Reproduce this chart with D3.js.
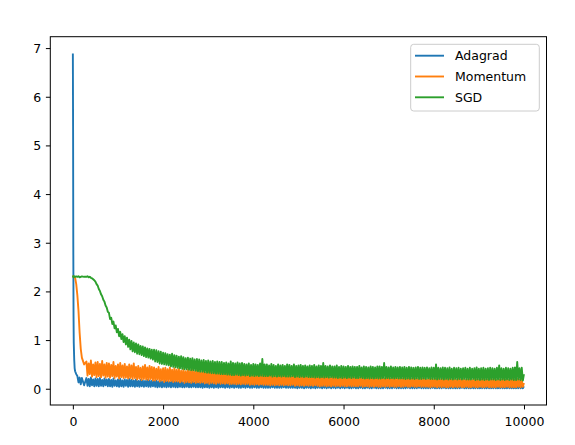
<!DOCTYPE html>
<html>
<head>
<meta charset="utf-8">
<script src="https://cdn.jsdelivr.net/npm/d3@7"></script>
<style>
  body { margin: 0; background: #fff; }
  text { font-family: "DejaVu Sans", sans-serif; }
</style>
</head>
<body>
<div id="chart"></div>
<script>
var W = 575, H = 445;
var plotLeft = 50.3, plotTop = 36.7, plotRight = 546.5, plotBottom = 405; // plot frame

// iteration index of every sample: fine at the start, then every 25 iterations
var steps = [0, 5, 10, 15, 20, 30, 40, 50, 75, 100, 125, 150, 175, 200, 250]
  .concat(d3.range(300, 10000, 25)).concat([9999]);

var names = ['Adagrad', 'Momentum', 'SGD'];
var colors = ['#1f77b4', '#ff7f0e', '#2ca02c'];

// loss (one row = 500 iterations)
var adagrad = [6.89, 5.4, 2.9, 1.5, 0.95, 0.6, 0.42, 0.36, 0.3, 0.26, 0.13, 0.23, 0.09, 0.22, 0.07,
  0.22, 0.06, 0.2, 0.05, 0.23, 0.07, 0.19, 0.05, 0.21, 0.06, 0.2, 0.05, 0.22, 0.06, 0.18, 0.05, 0.21, 0.07, 0.19, 0.05,
  0.2, 0.05, 0.18, 0.04, 0.21, 0.06, 0.17, 0.05, 0.19, 0.04, 0.2, 0.05, 0.17, 0.04, 0.19, 0.06, 0.18, 0.04, 0.2, 0.05,
  0.18, 0.05, 0.17, 0.04, 0.19, 0.05, 0.16, 0.04, 0.18, 0.05, 0.17, 0.04, 0.16, 0.05, 0.18, 0.04, 0.17, 0.04, 0.16, 0.05,
  0.16, 0.04, 0.17, 0.03, 0.15, 0.04, 0.16, 0.03, 0.15, 0.04, 0.16, 0.03, 0.15, 0.04, 0.14, 0.03, 0.16, 0.04, 0.15, 0.03,
  0.15, 0.03, 0.14, 0.04, 0.16, 0.03, 0.13, 0.03, 0.14, 0.04, 0.15, 0.03, 0.13, 0.03, 0.14, 0.04, 0.13, 0.03, 0.15, 0.03,
  0.13, 0.03, 0.14, 0.02, 0.13, 0.03, 0.12, 0.03, 0.14, 0.02, 0.13, 0.03, 0.12, 0.02, 0.13, 0.03, 0.12, 0.02, 0.13, 0.03,
  0.12, 0.03, 0.13, 0.02, 0.12, 0.03, 0.11, 0.02, 0.13, 0.03, 0.12, 0.02, 0.11, 0.03, 0.12, 0.02, 0.11, 0.02, 0.12, 0.03,
  0.11, 0.02, 0.12, 0.03, 0.11, 0.02, 0.12, 0.02, 0.1, 0.03, 0.11, 0.02, 0.1, 0.02, 0.11, 0.03, 0.1, 0.02, 0.11, 0.02,
  0.11, 0.02, 0.1, 0.02, 0.11, 0.03, 0.1, 0.02, 0.11, 0.02, 0.1, 0.02, 0.11, 0.02, 0.1, 0.03, 0.1, 0.02, 0.11, 0.02,
  0.1, 0.02, 0.11, 0.02, 0.09, 0.02, 0.1, 0.01, 0.1, 0.02, 0.09, 0.02, 0.1, 0.01, 0.09, 0.02, 0.1, 0.02, 0.09, 0.01,
  0.09, 0.02, 0.1, 0.01, 0.09, 0.02, 0.1, 0.02, 0.09, 0.01, 0.09, 0.02, 0.1, 0.01, 0.09, 0.02, 0.08, 0.01, 0.09, 0.02,
  0.09, 0.01, 0.1, 0.02, 0.08, 0.01, 0.09, 0.02, 0.09, 0.01, 0.08, 0.02, 0.09, 0.01, 0.08, 0.01, 0.09, 0.02, 0.08, 0.01,
  0.08, 0.01, 0.09, 0.02, 0.08, 0.01, 0.09, 0.01, 0.08, 0.02, 0.08, 0.01, 0.09, 0.01, 0.08, 0.02, 0.07, 0.01, 0.08, 0.01,
  0.08, 0.01, 0.09, 0.01, 0.08, 0.02, 0.07, 0.01, 0.08, 0.01, 0.07, 0.01, 0.08, 0.02, 0.07, 0.01, 0.08, 0.01, 0.07, 0.01,
  0.07, 0.01, 0.08, 0.01, 0.07, 0.02, 0.08, 0.01, 0.07, 0.01, 0.08, 0.01, 0.07, 0.01, 0.07, 0.02, 0.08, 0.01, 0.07, 0.01,
  0.07, 0.01, 0.08, 0.01, 0.07, 0.01, 0.07, 0.02, 0.07, 0.01, 0.06, 0.01, 0.07, 0.01, 0.08, 0.01, 0.07, 0.02, 0.06, 0.01,
  0.07, 0.01, 0.06, 0.01, 0.07, 0.01, 0.07, 0.01, 0.06, 0.01, 0.07, 0.01, 0.06, 0.02, 0.07, 0.01, 0.06, 0.01, 0.07, 0.01,
  0.06, 0.01, 0.07, 0.01, 0.06, 0.01, 0.07, 0.01, 0.06, 0.01, 0.06, 0.01, 0.07, 0.01, 0.06, 0.01, 0.07, 0.01, 0.06, 0.01,
  0.06, 0.01, 0.07, 0.01, 0.06, 0.01, 0.06, 0.01, 0.07, 0.01, 0.06, 0.01, 0.06, 0.01, 0.07, 0.01, 0.06, 0.01, 0.06, 0.01,
  0.06, 0.01, 0.06, 0.01, 0.07, 0.01, 0.06, 0.01,
  0.05];

var momentum = [2.30, 2.30, 2.31, 2.30, 2.30, 2.29, 2.29, 2.28, 2.15, 1.92, 1.6, 1.15, 0.82, 0.64, 0.5,
  0.56, 0.27, 0.52, 0.3, 0.58, 0.25, 0.5, 0.28, 0.54, 0.24, 0.55, 0.26, 0.51, 0.24, 0.57, 0.27, 0.5, 0.23, 0.53, 0.25,
  0.52, 0.23, 0.49, 0.26, 0.55, 0.22, 0.47, 0.25, 0.5, 0.21, 0.53, 0.24, 0.48, 0.22, 0.51, 0.23, 0.46, 0.21, 0.5, 0.22,
  0.48, 0.2, 0.52, 0.22, 0.45, 0.19, 0.47, 0.21, 0.43, 0.18, 0.46, 0.2, 0.49, 0.19, 0.44, 0.18, 0.47, 0.2, 0.45, 0.17,
  0.44, 0.17, 0.41, 0.19, 0.45, 0.15, 0.4, 0.17, 0.42, 0.14, 0.43, 0.16, 0.4, 0.15, 0.44, 0.16, 0.39, 0.14, 0.42, 0.15,
  0.39, 0.15, 0.41, 0.13, 0.37, 0.15, 0.4, 0.12, 0.36, 0.14, 0.39, 0.13, 0.38, 0.12, 0.4, 0.14, 0.36, 0.12, 0.38, 0.13,
  0.37, 0.12, 0.34, 0.13, 0.38, 0.11, 0.33, 0.12, 0.35, 0.1, 0.36, 0.12, 0.33, 0.11, 0.35, 0.1, 0.34, 0.12, 0.32, 0.1,
  0.33, 0.11, 0.35, 0.1, 0.31, 0.11, 0.34, 0.09, 0.3, 0.1, 0.33, 0.1, 0.31, 0.09, 0.32, 0.1, 0.3, 0.09, 0.33, 0.1,
  0.31, 0.09, 0.29, 0.1, 0.32, 0.08, 0.28, 0.09, 0.3, 0.08, 0.31, 0.09, 0.28, 0.08, 0.3, 0.09, 0.29, 0.08, 0.3, 0.08,
  0.28, 0.08, 0.3, 0.07, 0.27, 0.08, 0.29, 0.07, 0.26, 0.08, 0.28, 0.07, 0.29, 0.08, 0.27, 0.07, 0.28, 0.08, 0.26, 0.07,
  0.27, 0.07, 0.25, 0.08, 0.28, 0.06, 0.26, 0.07, 0.25, 0.06, 0.27, 0.07, 0.25, 0.06, 0.26, 0.07, 0.24, 0.06, 0.26, 0.07,
  0.26, 0.06, 0.24, 0.07, 0.27, 0.06, 0.24, 0.05, 0.25, 0.06, 0.26, 0.06, 0.24, 0.05, 0.25, 0.06, 0.23, 0.05, 0.25, 0.06,
  0.24, 0.05, 0.26, 0.06, 0.23, 0.05, 0.25, 0.06, 0.23, 0.05, 0.24, 0.05, 0.25, 0.06, 0.23, 0.05, 0.24, 0.05, 0.22, 0.05,
  0.24, 0.05, 0.22, 0.06, 0.25, 0.04, 0.23, 0.05, 0.22, 0.05, 0.24, 0.04, 0.22, 0.05, 0.23, 0.04, 0.22, 0.05, 0.23, 0.04,
  0.23, 0.04, 0.24, 0.05, 0.21, 0.04, 0.23, 0.05, 0.22, 0.04, 0.21, 0.05, 0.23, 0.04, 0.22, 0.04, 0.21, 0.05, 0.22, 0.04,
  0.21, 0.04, 0.23, 0.05, 0.2, 0.04, 0.22, 0.04, 0.2, 0.05, 0.22, 0.04, 0.21, 0.04, 0.2, 0.05, 0.22, 0.04, 0.21, 0.04,
  0.21, 0.04, 0.19, 0.04, 0.22, 0.03, 0.2, 0.04, 0.19, 0.04, 0.21, 0.03, 0.2, 0.04, 0.19, 0.03, 0.21, 0.04, 0.2, 0.03,
  0.2, 0.03, 0.21, 0.04, 0.19, 0.03, 0.2, 0.04, 0.18, 0.03, 0.2, 0.04, 0.19, 0.03, 0.2, 0.03, 0.18, 0.04, 0.19, 0.03,
  0.2, 0.03, 0.18, 0.04, 0.2, 0.03, 0.19, 0.03, 0.18, 0.04, 0.19, 0.03, 0.2, 0.03, 0.18, 0.04, 0.19, 0.03, 0.2, 0.03,
  0.19, 0.03, 0.2, 0.03, 0.18, 0.04, 0.19, 0.03, 0.18, 0.03, 0.2, 0.03, 0.19, 0.04, 0.18, 0.03, 0.19, 0.03, 0.2, 0.03,
  0.19, 0.03, 0.2, 0.04, 0.18, 0.03, 0.2, 0.04,
  0.12];

var sgd = [2.30, 2.31, 2.30, 2.29, 2.31, 2.30, 2.31, 2.30, 2.31, 2.30, 2.31, 2.29, 2.30, 2.31, 2.30,
  2.30, 2.31, 2.29, 2.30, 2.28, 2.27, 2.25, 2.23, 2.2, 2.15, 2.12, 2.05, 2.01, 1.94, 1.9, 1.83, 1.79, 1.71, 1.67, 1.58,
  1.56, 1.43, 1.46, 1.33, 1.38, 1.24, 1.3, 1.16, 1.23, 1.08, 1.17, 1.02, 1.12, 0.96, 1.08, 0.91, 1.05, 0.86, 1.01, 0.81,
  0.98, 0.77, 0.95, 0.75, 0.93, 0.72, 0.91, 0.71, 0.88, 0.69, 0.87, 0.67, 0.85, 0.65, 0.83, 0.64, 0.82, 0.62, 0.8, 0.6,
  0.8, 0.56, 0.79, 0.55, 0.77, 0.52, 0.76, 0.51, 0.74, 0.5, 0.73, 0.49, 0.71, 0.48, 0.7, 0.46, 0.72, 0.45, 0.69, 0.44,
  0.68, 0.43, 0.66, 0.42, 0.67, 0.41, 0.65, 0.4, 0.63, 0.4, 0.64, 0.39, 0.62, 0.38, 0.63, 0.38, 0.6, 0.37, 0.61, 0.36,
  0.6, 0.35, 0.58, 0.35, 0.59, 0.34, 0.57, 0.33, 0.58, 0.33, 0.56, 0.32, 0.57, 0.32, 0.55, 0.31, 0.56, 0.31, 0.55, 0.3,
  0.55, 0.3, 0.53, 0.3, 0.54, 0.29, 0.52, 0.29, 0.56, 0.28, 0.53, 0.28, 0.52, 0.29, 0.54, 0.28, 0.52, 0.27, 0.53, 0.28,
  0.51, 0.27, 0.5, 0.28, 0.52, 0.26, 0.49, 0.27, 0.51, 0.26, 0.5, 0.27, 0.49, 0.26, 0.52, 0.27, 0.61, 0.26, 0.5, 0.26,
  0.5, 0.26, 0.48, 0.27, 0.51, 0.25, 0.49, 0.26, 0.47, 0.25, 0.5, 0.26, 0.48, 0.25, 0.49, 0.26, 0.47, 0.25, 0.5, 0.25,
  0.49, 0.25, 0.47, 0.26, 0.5, 0.24, 0.47, 0.25, 0.48, 0.24, 0.49, 0.25, 0.47, 0.24, 0.48, 0.25, 0.46, 0.24, 0.48, 0.24,
  0.47, 0.24, 0.49, 0.23, 0.46, 0.24, 0.48, 0.23, 0.47, 0.24, 0.53, 0.23, 0.47, 0.24, 0.46, 0.23, 0.48, 0.24, 0.46, 0.23,
  0.46, 0.23, 0.48, 0.22, 0.45, 0.23, 0.47, 0.22, 0.46, 0.23, 0.45, 0.22, 0.47, 0.23, 0.45, 0.22, 0.46, 0.23, 0.45, 0.22,
  0.45, 0.22, 0.47, 0.23, 0.44, 0.22, 0.46, 0.21, 0.45, 0.22, 0.44, 0.21, 0.46, 0.22, 0.45, 0.21, 0.44, 0.22, 0.46, 0.21,
  0.46, 0.21, 0.45, 0.22, 0.53, 0.21, 0.45, 0.22, 0.44, 0.21, 0.46, 0.22, 0.44, 0.21, 0.45, 0.22, 0.44, 0.21, 0.45, 0.21,
  0.44, 0.21, 0.45, 0.2, 0.43, 0.21, 0.45, 0.2, 0.44, 0.21, 0.43, 0.2, 0.44, 0.21, 0.45, 0.2, 0.43, 0.2, 0.44, 0.21,
  0.43, 0.2, 0.44, 0.21, 0.42, 0.2, 0.44, 0.2, 0.43, 0.2, 0.5, 0.19, 0.43, 0.2, 0.42, 0.2, 0.44, 0.19, 0.43, 0.2,
  0.42, 0.19, 0.44, 0.2, 0.41, 0.19, 0.43, 0.2, 0.42, 0.19, 0.43, 0.2, 0.41, 0.19, 0.42, 0.2, 0.43, 0.19, 0.41, 0.19,
  0.43, 0.19, 0.41, 0.2, 0.42, 0.18, 0.44, 0.19, 0.41, 0.18, 0.42, 0.19, 0.43, 0.18, 0.41, 0.19, 0.42, 0.18, 0.43, 0.19,
  0.42, 0.19, 0.41, 0.18, 0.43, 0.19, 0.48, 0.18, 0.42, 0.19, 0.41, 0.18, 0.43, 0.19, 0.42, 0.18, 0.41, 0.19, 0.43, 0.18,
  0.44, 0.18, 0.55, 0.19, 0.42, 0.18, 0.43, 0.17,
  0.3];

var xTicks = [0, 2000, 4000, 6000, 8000, 10000];
var yTicks = [0, 1, 2, 3, 4, 5, 6, 7];

var series = [adagrad, momentum, sgd];

var svg = d3.select('#chart').append('svg')
  .attr('width', W)
  .attr('height', H);

// matplotlib style 5% margins around the data
var xr = d3.extent(steps);
var yr = d3.extent(d3.merge(series));
var xpad = (xr[1] - xr[0]) * 0.05, ypad = (yr[1] - yr[0]) * 0.05;

var x = d3.scaleLinear().domain([xr[0] - xpad, xr[1] + xpad]).range([plotLeft, plotRight]);
var y = d3.scaleLinear().domain([yr[0] - ypad, yr[1] + ypad]).range([plotBottom, plotTop]);

svg.append('clipPath').attr('id', 'clip')
  .append('rect')
  .attr('x', plotLeft).attr('y', plotTop)
  .attr('width', plotRight - plotLeft).attr('height', plotBottom - plotTop);

var line = d3.line()
  .x(function(d, i) { return x(steps[i]); })
  .y(function(d) { return y(d); });

svg.append('g').attr('clip-path', 'url(#clip)')
  .selectAll('path')
  .data(series)
  .enter()
  .append('path')
  .attr('d', line)
  .attr('fill', 'none')
  .attr('stroke', function(d, i) { return colors[i]; })
  .attr('stroke-width', 1.9)
  .attr('stroke-linejoin', 'round');

// axes
var xAxis = svg.append('g')
  .attr('transform', 'translate(0,' + plotBottom + ')')
  .call(d3.axisBottom(x).tickValues(xTicks).tickFormat(d3.format('d'))
    .tickSize(4.4).tickSizeOuter(0).tickPadding(7.7));

var yAxis = svg.append('g')
  .attr('transform', 'translate(' + plotLeft + ',0)')
  .call(d3.axisLeft(y).tickValues(yTicks).tickFormat(d3.format('d'))
    .tickSize(4.4).tickSizeOuter(0).tickPadding(4.6));

[xAxis, yAxis].forEach(function(a) {
  a.select('.domain').remove();
  a.attr('font-size', null).attr('font-family', null);
  a.selectAll('line').attr('stroke', '#000').attr('stroke-width', 1);
  a.selectAll('text').attr('fill', '#000')
    .style('font-family', '"DejaVu Sans", sans-serif')
    .style('font-size', '12.5px');
});
yAxis.selectAll('text').attr('dy', '0.36em');

// frame
svg.append('rect')
  .attr('x', plotLeft).attr('y', plotTop)
  .attr('width', plotRight - plotLeft).attr('height', plotBottom - plotTop)
  .attr('fill', 'none')
  .attr('stroke', '#000')
  .attr('stroke-width', 1);

// legend
var lg = svg.append('g');
lg.append('rect')
  .attr('x', 410.7).attr('y', 44.3)
  .attr('width', 128.6).attr('height', 66.7)
  .attr('rx', 3)
  .attr('fill', '#fff').attr('fill-opacity', 0.8)
  .attr('stroke', '#cccccc').attr('stroke-width', 1);

var rows = lg.selectAll('g.row')
  .data(names)
  .enter()
  .append('g')
  .attr('class', 'row')
  .attr('transform', function(d, i) { return 'translate(0,' + (55.7 + i * 20.8) + ')'; });

rows.append('line')
  .attr('x1', 415).attr('x2', 444)
  .attr('stroke', function(d, i) { return colors[i]; })
  .attr('stroke-width', 1.9);

rows.append('text')
  .attr('x', 455)
  .attr('dy', '0.36em')
  .style('font-size', '12.5px')
  .text(function(d) { return d; });
</script>
</body>
</html>
